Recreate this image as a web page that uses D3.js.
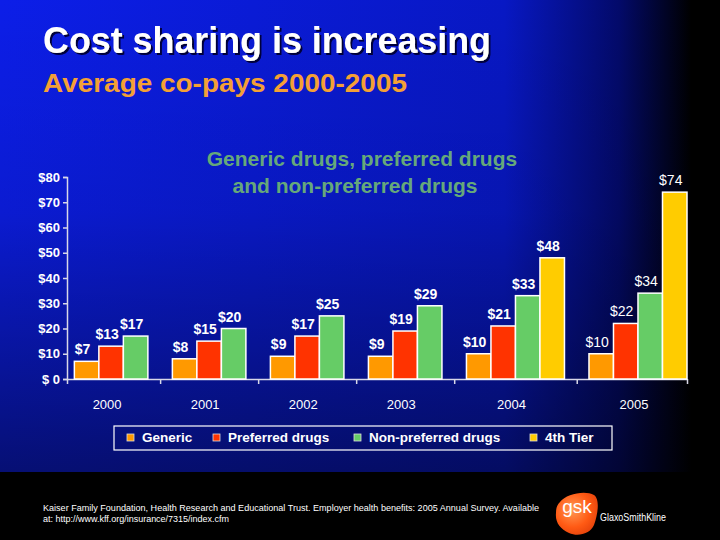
<!DOCTYPE html>
<html>
<head>
<meta charset="utf-8">
<script src="https://cdn.jsdelivr.net/npm/d3@7"></script>
<style>
  html, body { margin: 0; padding: 0; background: #000; }
  svg { display: block; font-family: 'Liberation Sans', Arial, sans-serif; }
</style>
</head>
<body>
<div id="chart"></div>
<script>
// data
const years = ['2000', '2001', '2002', '2003', '2004', '2005'];
const generic = [7, 8, 9, 9, 10, 10];
const preferred = [13, 15, 17, 19, 21, 22];
const nonPreferred = [17, 20, 25, 29, 33, 34];
const fourthTier = [null, null, null, null, 48, 74];
const seriesNames = ['Generic', 'Preferred drugs', 'Non-preferred drugs', '4th Tier'];
const seriesColors = ['#FF9900', '#FF3300', '#66CC66', '#FFCC00'];
const yTicks = [0, 10, 20, 30, 40, 50, 60, 70, 80];
const yTickLabels = ['$ 0', '$10', '$20', '$30', '$40', '$50', '$60', '$70', '$80'];

const w = 720;
const h = 540;

const svg = d3.select('#chart').append('svg').attr('width', w).attr('height', h);
const defs = svg.append('defs');

// background: blue fading to black on the right, darker toward the bottom
const bg = defs.append('linearGradient').attr('id', 'bg').attr('x1', 0).attr('x2', 1).attr('y1', 0).attr('y2', 0);
bg.append('stop').attr('offset', 0).attr('stop-color', '#0c1ee8');
bg.append('stop').attr('offset', 0.7).attr('stop-color', '#0818c4');
bg.append('stop').attr('offset', 0.86).attr('stop-color', '#030a6a');
bg.append('stop').attr('offset', 0.96).attr('stop-color', '#000000');
const shade = defs.append('linearGradient').attr('id', 'shade').attr('x1', 0).attr('x2', 0).attr('y1', 0).attr('y2', 1);
shade.append('stop').attr('offset', 0).attr('stop-color', '#000').attr('stop-opacity', 0);
shade.append('stop').attr('offset', 0.45).attr('stop-color', '#000').attr('stop-opacity', 0.1);
shade.append('stop').attr('offset', 1).attr('stop-color', '#000').attr('stop-opacity', 0.5);
const blob = defs.append('radialGradient').attr('id', 'blob').attr('cx', 0.4).attr('cy', 0.4).attr('r', 0.7);
blob.append('stop').attr('offset', 0).attr('stop-color', '#ff9a55');
blob.append('stop').attr('offset', 0.6).attr('stop-color', '#ff5a14');
blob.append('stop').attr('offset', 1).attr('stop-color', '#e2400a');
defs.append('filter').attr('id', 'shadow')
   .append('feDropShadow').attr('dx', 2).attr('dy', 2).attr('stdDeviation', 0.6)
   .attr('flood-color', '#00003a').attr('flood-opacity', 1);

svg.append('rect').attr('width', w).attr('height', h).attr('fill', '#000');
svg.append('rect').attr('width', w).attr('height', 472).attr('fill', 'url(#bg)');
svg.append('rect').attr('width', w).attr('height', 472).attr('fill', 'url(#shade)');

// titles
svg.append('text').attr('x', 43).attr('y', 53).text('Cost sharing is increasing')
   .attr('font-size', 36).attr('font-weight', 'bold').attr('fill', '#fff')
   .attr('filter', 'url(#shadow)')
   .attr('textLength', 448).attr('lengthAdjust', 'spacingAndGlyphs');
svg.append('text').attr('x', 43).attr('y', 92).text('Average co-pays 2000-2005')
   .attr('font-size', 26).attr('font-weight', 'bold').attr('fill', '#F4A035')
   .attr('textLength', 364).attr('lengthAdjust', 'spacingAndGlyphs');

svg.append('text').attr('x', 362).attr('y', 166).attr('text-anchor', 'middle')
   .attr('font-size', 21).attr('font-weight', 'bold').attr('fill', '#66a87a')
   .text('Generic drugs, preferred drugs');
svg.append('text').attr('x', 355).attr('y', 193).attr('text-anchor', 'middle')
   .attr('font-size', 21).attr('font-weight', 'bold').attr('fill', '#66a87a')
   .text('and non-preferred drugs');

// each year takes one slot per bar plus a one-slot gap to the next year
const table = years.map((year, i) => {
    const vals = [generic[i], preferred[i], nonPreferred[i], fourthTier[i]];
    return { year, bars: vals.map((v, k) => ({ k, v, year })).filter(d => d.v != null) };
});
let slot = 0.3;
table.forEach((d, i) => {
    d.start = slot;
    d.end = slot + d.bars.length;
    slot = d.end + 1;
});
const totalSlots = slot - 1;

const x = d3.scaleLinear().domain([0, totalSlots]).range([67, 687]);
const y = d3.scaleLinear().domain([0, 80]).range([379, 177]);
const bw = x(1) - x(0);

// y axis
const yAxis = svg.append('g').attr('transform', 'translate(67,0)')
   .call(d3.axisLeft(y).tickValues(yTicks).tickSize(4).tickFormat((d, i) => yTickLabels[i]));
yAxis.select('.domain').attr('stroke', '#d8d8e8').attr('stroke-width', 1.5);
yAxis.selectAll('.tick line').attr('stroke', '#d8d8e8').attr('stroke-width', 1.5);
yAxis.selectAll('.tick text').attr('fill', '#fff').attr('font-size', 13).attr('font-weight', 'bold')
   .attr('font-family', 'Liberation Sans, Arial, sans-serif').attr('x', -7);

// x axis with ticks between the year groups
const xBounds = [0].concat(table.slice(0, -1).map(d => d.end + 0.5), [totalSlots]);
const xAxis = svg.append('g').attr('transform', 'translate(0,379)')
   .call(d3.axisBottom(x).tickValues(xBounds).tickSize(5).tickSizeOuter(0).tickFormat(''));
xAxis.select('.domain').attr('stroke', '#d8d8e8').attr('stroke-width', 1.5);
xAxis.selectAll('.tick line').attr('stroke', '#d8d8e8').attr('stroke-width', 1.5);

svg.selectAll('.year')
   .data(table)
   .enter()
   .append('text')
   .attr('class', 'year')
   .attr('x', d => x((d.start + d.end) / 2) - 4)
   .attr('y', 409)
   .attr('text-anchor', 'middle')
   .attr('font-size', 13)
   .attr('fill', '#fff')
   .text(d => d.year);

// bars
const groups = svg.selectAll('.grp')
   .data(table)
   .enter()
   .append('g')
   .attr('class', 'grp');

groups.selectAll('rect')
   .data(d => d.bars.map((b, j) => Object.assign({ pos: d.start + j }, b)))
   .enter()
   .append('rect')
   .attr('x', d => x(d.pos))
   .attr('y', d => y(d.v))
   .attr('width', bw)
   .attr('height', d => y(0) - y(d.v))
   .attr('fill', d => seriesColors[d.k])
   .attr('stroke', '#fff')
   .attr('stroke-width', 1.5);

groups.selectAll('.val')
   .data(d => d.bars.map((b, j) => Object.assign({ pos: d.start + j }, b)))
   .enter()
   .append('text')
   .attr('class', 'val')
   .attr('x', d => x(d.pos + 0.5) - 4)
   .attr('y', d => y(d.v) - 7)
   .attr('text-anchor', 'middle')
   .attr('font-size', 14)
   .attr('font-weight', d => d.year == '2005' ? 'normal' : 'bold')
   .attr('fill', '#fff')
   .text(d => '$' + d.v);

// legend
svg.append('rect').attr('x', 114).attr('y', 426).attr('width', 498).attr('height', 24)
   .attr('fill', 'none').attr('stroke', '#fff').attr('stroke-width', 1.2);
const legendX = [127, 213, 354, 530];
const legend = svg.selectAll('.leg')
   .data(seriesNames)
   .enter()
   .append('g')
   .attr('class', 'leg')
   .attr('transform', (d, i) => `translate(${legendX[i]},434)`);
legend.append('rect').attr('width', 7).attr('height', 7)
   .attr('fill', (d, i) => seriesColors[i]).attr('stroke', '#ddd').attr('stroke-width', 0.8);
legend.append('text').attr('x', 15).attr('y', 8)
   .attr('font-size', 13.5).attr('font-weight', 'bold').attr('fill', '#fff')
   .text(d => d);

// source note
svg.append('text').attr('x', 43).attr('y', 511).attr('font-size', 9).attr('fill', '#fff')
   .attr('textLength', 496).attr('lengthAdjust', 'spacingAndGlyphs')
   .text('Kaiser Family Foundation, Health Research and Educational Trust. Employer health benefits: 2005 Annual Survey.  Available');
svg.append('text').attr('x', 43).attr('y', 522).attr('font-size', 9).attr('fill', '#fff')
   .attr('textLength', 186).attr('lengthAdjust', 'spacingAndGlyphs')
   .text('at: http://www.kff.org/insurance/7315/index.cfm');

// gsk logo
svg.append('path')
   .attr('d', 'M560,502 C566,494 585,490 594,495 C600,499 598,514 594,525 C590,534 578,537 569,533 C560,529 555,522 556,513 C556,508 557,505 560,502 Z')
   .attr('fill', 'url(#blob)');
svg.append('text').attr('x', 577).attr('y', 513).attr('text-anchor', 'middle')
   .attr('font-size', 19).attr('fill', '#fff').text('gsk');
svg.append('text').attr('x', 600).attr('y', 521).attr('font-size', 10).attr('fill', '#fff')
   .attr('textLength', 66).attr('lengthAdjust', 'spacingAndGlyphs').text('GlaxoSmithKline');
</script>
</body>
</html>
